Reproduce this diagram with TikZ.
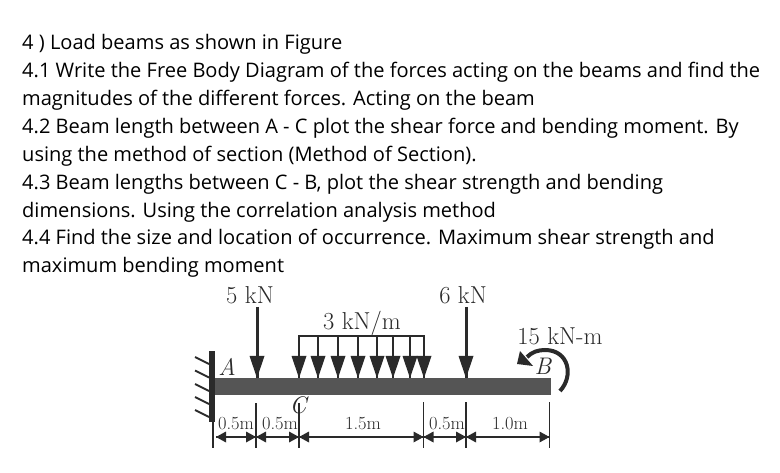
\documentclass[tikz,border=0pt]{standalone}
\usepackage{fontspec}
\setmainfont{Open Sans}
\newfontfamily\figfont{Latin Modern Roman}
\definecolor{beamgray}{HTML}{555555}
\definecolor{ink}{HTML}{2A2A2A}
\tikzset{
 para/.style={anchor=base west,inner sep=0pt,font=\fontsize{20.05}{24}\selectfont,text=black},
 figlab/.style={inner sep=0pt,font=\figfont\fontsize{24.5}{28}\selectfont,text=ink},
 dimlab/.style={inner sep=0pt,font=\figfont\fontsize{18.5}{22}\selectfont,text=ink},
 ptlab/.style={inner sep=0pt,font=\figfont\itshape\fontsize{24}{28}\selectfont,text=ink},
 load/.style={draw=ink,line width=3pt},
 thin line/.style={draw=ink,line width=1.1pt},
 hd/.style={fill=ink,draw=none},
}
\newcommand{\headdown}[1]{\fill[hd] (#1) -- ++(-7.5,-22) -- ++(15,0) -- cycle;}
\newcommand{\tickL}[1]{\fill[hd] (#1) -- ++(10,-5.5) -- ++(0,11) -- cycle;}
\newcommand{\tickR}[1]{\fill[hd] (#1) -- ++(-10,-5.5) -- ++(0,11) -- cycle;}
\begin{document}
\begin{tikzpicture}[x=1pt,y=-1pt]
\useasboundingbox (0,0) rectangle (780,473);
\fill[white] (0,0) rectangle (780,473);
\node[para] (l1) at (22,50) {4 ) Load beams as shown in Figure};
\node[para] (l2) at (22,78) {4.1 Write the Free Body Diagram of the forces acting on the beams and find the};
\node[para] (l3) at (22,106) {magnitudes of the different forces. Acting on the beam};
\node[para] (l4) at (22,134) {4.2 Beam length between A - C plot the shear force and bending moment. By};
\node[para] (l5) at (22,161.7) {using the method of section (Method of Section).};
\node[para] (l6) at (22,189.5) {4.3 Beam lengths between C - B, plot the shear strength and bending};
\node[para] (l7) at (22,217.3) {dimensions. Using the correlation analysis method};
\node[para] (l8) at (22,245) {4.4 Find the size and location of occurrence. Maximum shear strength and};
\node[para] (l9) at (22,273) {maximum bending moment};
% wall and beam
\node[fill=ink,minimum width=6pt,minimum height=71pt,inner sep=0pt] (wall) at (212,386.5) {};
\node[fill=beamgray,minimum width=336pt,minimum height=17pt,inner sep=0pt] (beam) at (383,386.5) {};
\foreach \y in {364,377.5,391,404,417}
  \draw[ink,line width=1.8pt] (209,\y) -- ++(-14,-7);
% point loads
\coordinate (p5) at (257,378);
\coordinate (p6) at (466,378);
\draw[load] (257,307) -- (p5); \headdown{p5}
\draw[load] (466,307) -- (p6); \headdown{p6}
% distributed
\draw[ink,line width=1.9pt] (299,348) -- (299,336) -- (424,336) -- (424,348);
\foreach \x in {299,318,338,358,377,393,410,424}{
  \coordinate (q) at (\x,378);
  \draw[load,line width=2.1pt] (\x,336) -- (q);
  \fill[hd] (q) -- ++(-7.5,-22) -- ++(15,0) -- cycle;
}
% labels
\node[figlab] (f5) at (250,295) {5 kN};
\node[figlab] (f6) at (463,295) {6 kN};
\node[figlab] (w) at (362,323) {3 kN/m};
\node[figlab] (m) at (560,336) {15 kN-m};
\node[ptlab] (A) at (227,367) {A};
\node[ptlab] (B) at (543,366) {B};
\node[ptlab] (C) at (298,405.5) {C};
% moment
\draw[ink,line width=4pt] (560,391) .. controls (574,376) and (569,350) .. (545,350) .. controls (538,350) and (532,352) .. (527,357);
\fill[hd] (517,364) -- (520,351) -- (533,366) -- cycle;
% dimensions
\foreach \x/\t in {213/422,256/403,299/403,423.5/402,466/402,549.5/402}
  \draw[thin line] (\x,\t) -- (\x,448);
\coordinate (d0) at (216,437);\coordinate (d1) at (256,437);\coordinate (d2) at (299,437);
\coordinate (d3) at (423.5,437);\coordinate (d4) at (466,437);\coordinate (d5) at (549.5,437);
\draw[thin line] (216,437) -- (549.5,437);
\tickL{d0}\tickR{d1}\tickL{d1}\tickR{d2}\tickL{d2}\tickR{d3}\tickL{d3}\tickR{d4}\tickL{d4}\tickR{d5}
\node[dimlab] at (236,423.5) {0.5m};
\node[dimlab] at (280,423.5) {0.5m};
\node[dimlab] at (363,423.5) {1.5m};
\node[dimlab] at (447,423.5) {0.5m};
\node[dimlab] at (510,423.5) {1.0m};
\end{tikzpicture}
\end{document}
